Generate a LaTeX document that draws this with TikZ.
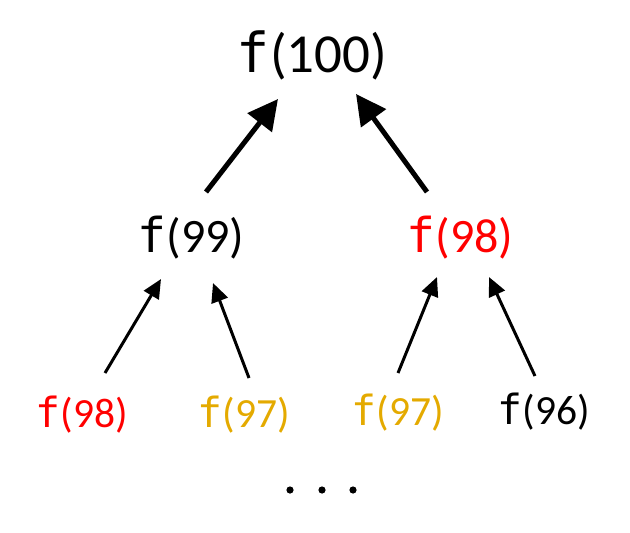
\documentclass[tikz,border=0pt]{standalone}
\usepackage{fontspec}
\setmainfont{Carlito}
\newfontfamily\fmono{DejaVu Sans Mono}
\usetikzlibrary{arrows.meta}
\definecolor{gold}{RGB}{228,170,0}
\newcommand{\ff}[1]{{\fmono f}(#1)}
\begin{document}
\begin{tikzpicture}[x=1pt,y=-1pt,
  lbl/.style={inner sep=0pt,anchor=center},
  big/.style={lbl,font=\fontsize{55}{60}\selectfont},
  mid/.style={lbl,font=\fontsize{48}{52}\selectfont},
  sml/.style={lbl,font=\fontsize{41.5}{45}\selectfont},
  thick arrow/.style={line width=5pt,-{Triangle[length=30pt,width=30pt]}},
  thin arrow/.style={line width=3pt,-{Triangle[length=19pt,width=17pt]}}]
\useasboundingbox (0,0) rectangle (630,533);
\node[big] (r) at (312,55) {\ff{100}};
\node[mid] (a) at (191,238) {\ff{99}};
\node[mid,text=red] (b) at (460,238) {\ff{98}};
\node[sml,text=red] (c) at (82,415) {\ff{98}};
\node[sml,text=gold] (d) at (244,415) {\ff{97}};
\node[sml,text=gold] (e) at (398,413) {\ff{97}};
\node[sml] (g) at (544,412) {\ff{96}};
\coordinate (a0) at (206,192); \coordinate (a1) at (278,99);
\coordinate (b0) at (427,192); \coordinate (b1) at (356,94);
\coordinate (c0) at (105,373); \coordinate (c1) at (161,279);
\coordinate (d0) at (249,378); \coordinate (d1) at (213,283);
\coordinate (e0) at (398,373); \coordinate (e1) at (437,277);
\coordinate (g0) at (535,376); \coordinate (g1) at (489,277);
\draw[thick arrow] (a0) -- (a1);
\draw[thick arrow] (b0) -- (b1);
\draw[thin arrow] (c0) -- (c1);
\draw[thin arrow] (d0) -- (d1);
\draw[thin arrow] (e0) -- (e1);
\draw[thin arrow] (g0) -- (g1);
\foreach \x [count=\i] in {290,322,353} \fill (\x,490) circle (3.6) coordinate (dot\i);
\end{tikzpicture}
\end{document}
